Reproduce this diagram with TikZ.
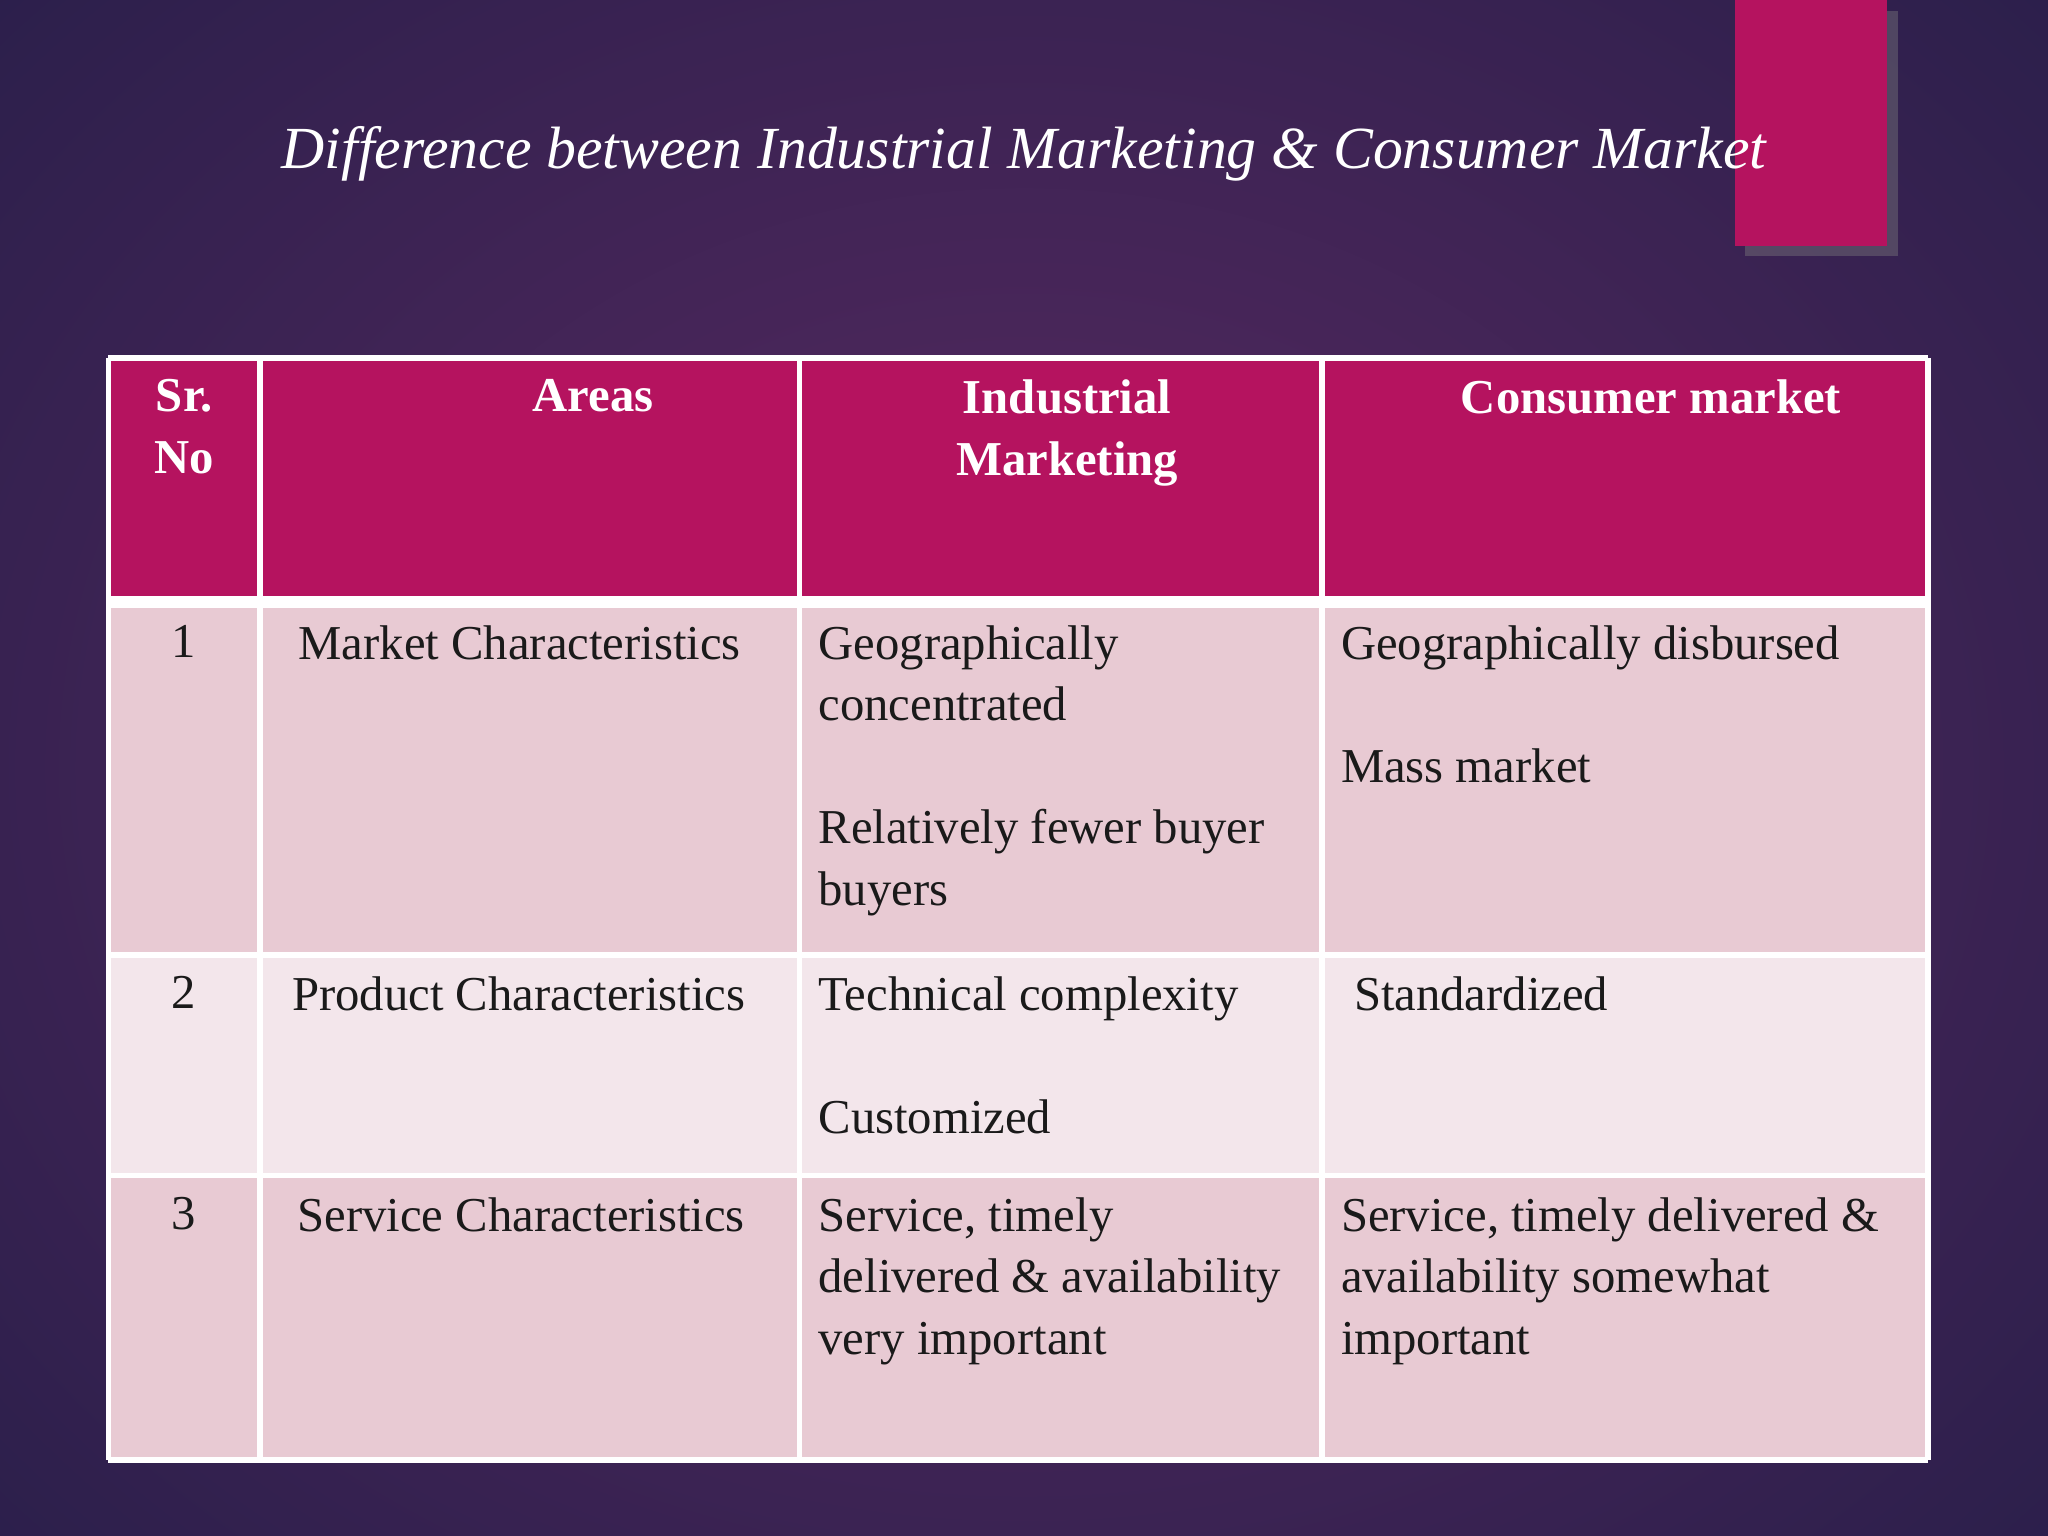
\documentclass[tikz,border=0pt]{standalone}
\usepackage{fontspec}
\setmainfont{Liberation Serif}
\usetikzlibrary{shadows}
\definecolor{bgc}{HTML}{5A2A62}
\definecolor{bge}{HTML}{2B1F4B}
\definecolor{mag}{HTML}{B5135F}
\definecolor{rowa}{HTML}{E8CAD3}
\definecolor{rowb}{HTML}{F3E6EB}
\definecolor{txt}{HTML}{1A1A1A}
\tikzset{
 cell/.style={anchor=north west,align=left,inner sep=0pt,text=txt,font=\fontsize{10.6}{13.4}\selectfont},
 head/.style={anchor=north,align=center,inner sep=0pt,text=white,font=\bfseries\fontsize{10.6}{13.4}\selectfont},
 grid/.style={draw=white,line width=1.2pt}
}
\begin{document}
\begin{tikzpicture}[x=0.01cm,y=-0.01cm]
\useasboundingbox (0,0) rectangle (1568,1176);
\shade[inner color=bgc,outer color=bge] (-300,-300) rectangle (1868,1476);
\fill[mag,drop shadow={opacity=0.4}] (1328,0) rectangle (1445,188);
\node[text=white,inner sep=0pt] (title) at (784,118) {\resizebox{11.36cm}{!}{\itshape\fontsize{24}{28}\selectfont Difference between Industrial Marketing \& Consumer Market}};
% fills
\fill[mag] (83,274) rectangle (1476,461);
\fill[rowa] (83,461) rectangle (1476,731);
\fill[rowb] (83,731) rectangle (1476,900);
\fill[rowa] (83,900) rectangle (1476,1118);
\foreach \x in {83,199,612,1012,1476} \draw[grid] (\x,274) -- (\x,1118);
\draw[grid] (83,274) -- (1476,274);
\draw[grid,line width=2.5pt] (83,461) -- (1476,461);
\foreach \y in {731,900,1118} \draw[grid] (83,\y) -- (1476,\y);
% header
\node[head] (h1) at (141,290) {Sr.\\No};
\node[head] (h2) at (454,290) {Areas};
\node[head] (h3) at (817,290) {Industrial\\Marketing};
\node[head] (h4) at (1264,290) {Consumer market};
% row 1
\node[cell,anchor=north] (r1a) at (141,478) {1};
\node[cell] (r1b) at (228,478) {Market Characteristics};
\node[cell] (r1c) at (626,478) {Geographically\\concentrated\\[13.4pt]Relatively fewer buyer\\buyers};
\node[cell] (r1d) at (1026,478) {Geographically disbursed\\[13.4pt]Mass market};
% row 2
\node[cell,anchor=north] (r2a) at (141,747) {2};
\node[cell] (r2b) at (223,747) {Product Characteristics};
\node[cell] (r2c) at (626,747) {Technical complexity\\[13.4pt]Customized};
\node[cell] (r2d) at (1036,747) {Standardized};
% row 3
\node[cell,anchor=north] (r3a) at (141,916) {3};
\node[cell] (r3b) at (227,916) {Service Characteristics};
\node[cell] (r3c) at (626,916) {Service, timely\\delivered \& availability\\very important};
\node[cell] (r3d) at (1026,916) {Service, timely delivered \&\\availability somewhat\\important};
\end{tikzpicture}
\end{document}
